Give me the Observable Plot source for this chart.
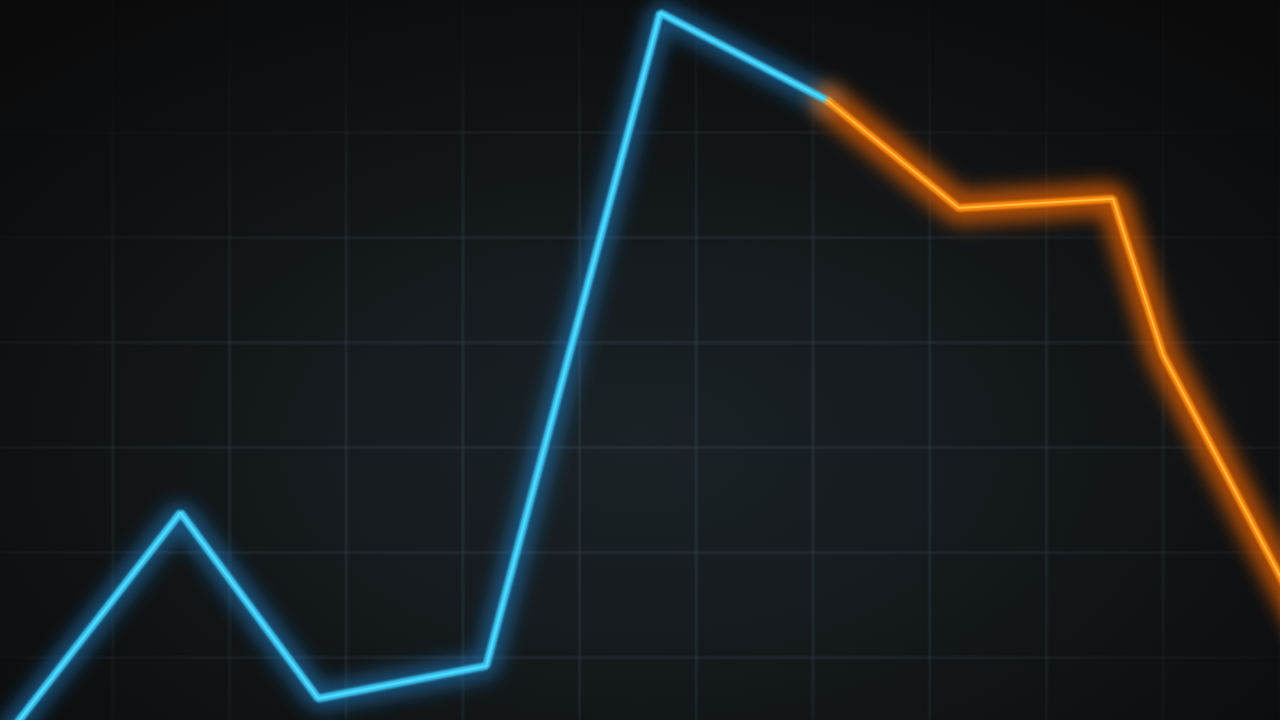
<!DOCTYPE html>
<html>
<head>
<meta charset="utf-8">
<script src="https://cdn.jsdelivr.net/npm/d3@7"></script>
<script src="https://cdn.jsdelivr.net/npm/@observablehq/plot@0.6"></script>
<style>
  html, body { margin: 0; padding: 0; background: #0d0d0e; overflow: hidden; }
  #chart svg { display: block; }
</style>
</head>
<body>
<div id="chart"></div>
<script>
// Data (grid units)
const steps  = [0, 1.58, 2.76, 4.2, 5.69, 7.13, 8.25, 9.57, 10.0, 11.0, 11.3];
const values = [0.12, 2.38, 0.61, 0.92, 7.14, 6.30, 5.28, 5.37, 3.88, 1.78, 1.15];
const phases = ["up","up","up","up","up","up","down","down","down","down","down"];
const gridX = [1,2,3,4,5,6,7,8,9,10,11];
const gridY = [1,2,3,4,5,6];

// build rows; the turning point belongs to both segments
const rows = [];
steps.forEach((s, i) => {
  rows.push({x: s, y: values[i], phase: phases[i]});
  if (i === 5) rows.push({x: s, y: values[i], phase: "down"});
});
const up = rows.filter(d => d.phase === "up");
const down = rows.filter(d => d.phase === "down");

const svg = Plot.plot({
  width: 1280,
  height: 720,
  margin: 0,
  x: {domain: [0.0377, 11.006], axis: null},
  y: {domain: [0.4, 7.257], axis: null},
  style: {
    background: "radial-gradient(ellipse 70% 75% at 50% 62%, #1a2226 0%, #151b1e 35%, #0f1112 70%, #0b0b0c 100%)",
    overflow: "hidden"
  },
  marks: [
    Plot.ruleX(gridX, {stroke: "#3a4b53", strokeOpacity: 0.75, strokeWidth: 1.5}),
    Plot.ruleY(gridY, {stroke: "#3a4b53", strokeOpacity: 0.75, strokeWidth: 1.5}),
    // glows
    Plot.line(up, {x: "x", y: "y", stroke: "#1e8fe0", strokeWidth: 26, strokeOpacity: 0.5, strokeLinejoin: "miter"}),
    Plot.line(down, {x: "x", y: "y", stroke: "#ff6a00", strokeWidth: 34, strokeOpacity: 0.65, strokeLinejoin: "miter"}),
    // cores
    Plot.line(up, {x: "x", y: "y", stroke: "#36c9f6", strokeWidth: 7.5, strokeLinejoin: "miter"}),
    Plot.line(down, {x: "x", y: "y", stroke: "#ff8c0a", strokeWidth: 7.5, strokeLinejoin: "miter"}),
    // highlights
    Plot.line(up, {x: "x", y: "y", stroke: "#5fdcff", strokeWidth: 2, strokeOpacity: 0.8, strokeLinejoin: "miter"}),
    Plot.line(down, {x: "x", y: "y", stroke: "#ffc24a", strokeWidth: 2, strokeOpacity: 0.85, strokeLinejoin: "miter"})
  ]
});

// glow filter and vignette mask for the grid
const ns = "http://www.w3.org/2000/svg";
const defs = document.createElementNS(ns, "defs");
defs.innerHTML = `
  <filter id="glow" x="-20%" y="-20%" width="140%" height="140%">
    <feGaussianBlur stdDeviation="9"/>
  </filter>
  <filter id="soft" x="-20%" y="-20%" width="140%" height="140%">
    <feGaussianBlur stdDeviation="0.8"/>
  </filter>
  <radialGradient id="vg" cx="0.5" cy="0.62" r="0.62" gradientUnits="objectBoundingBox">
    <stop offset="0" stop-color="#fff" stop-opacity="1"/>
    <stop offset="0.55" stop-color="#fff" stop-opacity="0.75"/>
    <stop offset="1" stop-color="#fff" stop-opacity="0.1"/>
  </radialGradient>
  <mask id="vmask" maskUnits="userSpaceOnUse" x="0" y="0" width="1280" height="720">
    <rect x="0" y="0" width="1280" height="720" fill="url(#vg)"/>
  </mask>`;
svg.insertBefore(defs, svg.firstChild);
const lines = svg.querySelectorAll('g[aria-label="line"]');
lines[0].setAttribute("filter", "url(#glow)");
lines[1].setAttribute("filter", "url(#glow)");
lines[2].setAttribute("filter", "url(#soft)");
lines[3].setAttribute("filter", "url(#soft)");
const rules = svg.querySelectorAll('g[aria-label^="rule"]');
rules.forEach(g => { g.setAttribute("filter", "url(#soft)"); g.setAttribute("mask", "url(#vmask)"); });

document.getElementById("chart").appendChild(svg);
</script>
</body>
</html>
